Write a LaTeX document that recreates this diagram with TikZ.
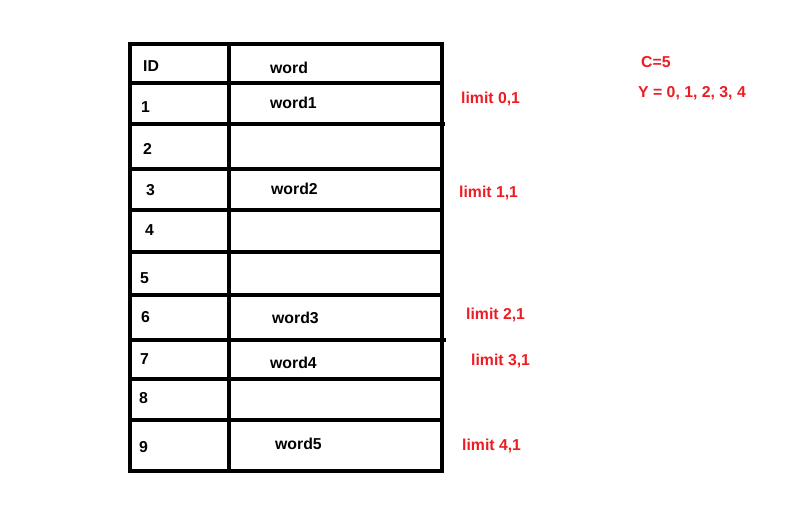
\documentclass[tikz,border=0pt]{standalone}
\usepackage{fontspec}
\setmainfont{Liberation Sans}
\definecolor{paintred}{RGB}{237,28,36}
\tikzset{
    cell/.style={anchor=west, inner sep=0pt, font=\fontsize{15.8}{17}\selectfont\bfseries},
    note/.style={cell, text=paintred},
    rule/.style={line width=4pt}
}
\begin{document}
\begin{tikzpicture}[x=1pt,y=-1pt]
    \useasboundingbox (0,0) rectangle (795,530);
    % table
    \draw[rule] (130,44) rectangle (442,471);
    \draw[rule] (229,44) -- (229,471);
    \foreach \y/\xa/\xb in {83/130/440,124/130/445,169/130/442,210/130/442,252/130/442,295/128/442,340/130/446,379/130/442,420/130/442}
        \draw[rule] (\xa,\y) -- (\xb,\y);
    % header
    \node[cell] (hid) at (143,66) {ID};
    \node[cell] (hword) at (270,68) {word};
    % ids
    \node[cell] (id1) at (141,107) {1};
    \node[cell] (id2) at (143,149) {2};
    \node[cell] (id3) at (146,190) {3};
    \node[cell] (id4) at (145,230) {4};
    \node[cell] (id5) at (140,278) {5};
    \node[cell] (id6) at (141,317) {6};
    \node[cell] (id7) at (140,359) {7};
    \node[cell] (id8) at (139,398) {8};
    \node[cell] (id9) at (139,447) {9};
    % words
    \node[cell] (w1) at (270,103) {word1};
    \node[cell] (w2) at (271,189) {word2};
    \node[cell] (w3) at (272,318) {word3};
    \node[cell] (w4) at (270,363) {word4};
    \node[cell] (w5) at (275,444) {word5};
    % limits
    \node[note] (lim0) at (461,99) {limit 0,1};
    \node[note] (lim1) at (459,193) {limit 1,1};
    \node[note] (lim2) at (466,315) {limit 2,1};
    \node[note] (lim3) at (471,361) {limit 3,1};
    \node[note] (lim4) at (462,446) {limit 4,1};
    \node[note] (cval) at (641,62) {C=5};
    \node[note] (yval) at (638,93) {Y = 0, 1, 2, 3, 4};
\end{tikzpicture}
\end{document}
